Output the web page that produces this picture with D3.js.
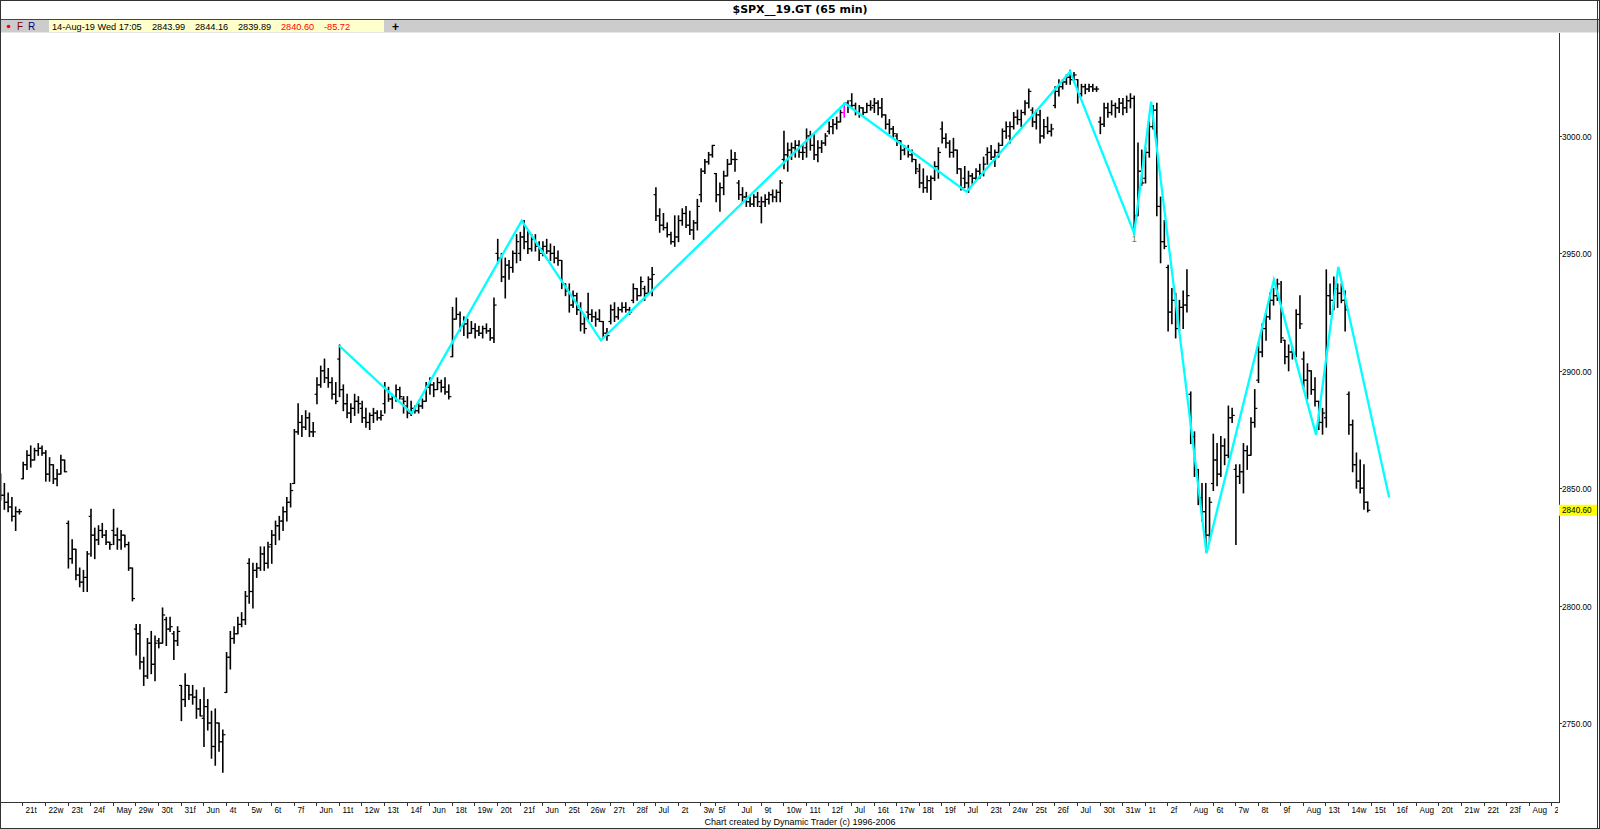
<!DOCTYPE html>
<html><head><meta charset="utf-8">
<script src="https://cdn.jsdelivr.net/npm/d3@7"></script>
<style>html,body{margin:0;padding:0;background:#fff;overflow:hidden}svg{display:block}</style>
</head><body><svg id="c" width="1600" height="829"></svg>
<script>
// ---------------- DATA ----------------
const chartTitle = "$SPX__19.GT (65 min)";
const headerDate = "14-Aug-19 Wed 17:05";
const headerValues = ["2843.99", "2844.16", "2839.89", "2840.60", "-85.72"];
const headerRed = [false, false, false, true, true];
const footerText = "Chart created by Dynamic Trader  (c) 1996-2006";
const priceTicks = [2750, 2800, 2850, 2900, 2950, 3000];
const lastPrice = 2840.60;

// one label per trading day, day 0 (20 May) is cut off at the left edge
const dayLabels = ["", "21t","22w","23t","24f","May","29w","30t","31f","Jun","4t","5w","6t","7f","Jun","11t","12w","13t","14f","Jun","18t","19w","20t","21f","Jun","25t","26w","27t","28f","Jul","2t","3w","5f","Jul","9t","10w","11t","12f","Jul","16t","17w","18t","19f","Jul","23t","24w","25t","26f","Jul","30t","31w","1t","2f","Aug","6t","7w","8t","9f","Aug","13t","14w","15t","16f","Aug","20t","21w","22t","23f","Aug","27t"];
// 65-minute bars per session (3 Jul is a half day)
const barsPerDay = [6,6,6,6,6,6,6,6,6,6,6,6,6,6,6,6,6,6,6,6,6,6,6,6,6,6,6,6,6,6,6,4,6,6,6,6,6,6,6,6,6,6,6,6,6,6,6,6,6,6,6,6,6,6,6,6,6,6,6,6,6,6,6,6,6,6,6,6,6,6];

const opens = [
 2855,2847,2844,2842,2838,2840, 2854,2860,2864,2862,2866,2867, 2865,2856,2860,2854,2856,2862,
 2835,2820,2824,2813,2810,2812, 2838,2830,2828,2832,2830,2827, 2832,2830,2828,2830,2826,2816,
 2790,2788,2776,2770,2784,2775, 2785,2784,2794,2790,2788,2785, 2766,2760,2766,2762,2761,2756,
 2752,2757,2750,2740,2750,2742, 2763,2778,2786,2788,2792,2794, 2818,2806,2815,2816,2822,2818,
 2826,2830,2834,2836,2840,2844, 2852,2874,2878,2876,2880,2874, 2890,2894,2900,2897,2895,2890,
 2905,2892,2886,2882,2884,2887, 2884,2880,2878,2881,2882,2880, 2886,2892,2888,2889,2892,2888,
 2885,2882,2884,2883,2885,2887, 2893,2894,2892,2895,2893,2891, 2906,2922,2924,2919,2920,2916,
 2918,2917,2916,2918,2917,2914, 2950,2948,2940,2945,2944,2950, 2950,2957,2955,2952,2956,2953,
 2952,2953,2951,2950,2948,2947, 2937,2934,2928,2932,2926,2920, 2925,2924,2923,2922,2921,2916,
 2921,2926,2923,2926,2927,2926, 2930,2935,2932,2935,2933,2939, 2975,2966,2962,2961,2958,2955,
 2957,2964,2967,2962,2960,2963, 2975,2985,2989,2992, 2984,2975,2978,2983,2988,2990,
 2980,2975,2974,2972,2971,2974, 2970,2972,2973,2975,2974,2976, 2990,2992,2994,2995,2996,2993,
 2995,3000,2996,2992,2995,2997, 3002,3004,3005,3006,3010,3014, 3015,3013,3010,3012,3010,3013,
 3013,3014,3012,3009,3005,3003, 3000,2998,2994,2995,2992,2990, 2985,2980,2978,2981,2982,2987,
 3003,2999,2997,2993,2994,2986, 2982,2980,2983,2982,2985,2984, 2992,2993,2991,2993,2996,3002,
 3000,3004,3008,3007,3010,3014, 3011,3006,3009,3000,3004,3002, 3013,3019,3021,3023,3025,3024,
 3024,3018,3021,3020,3021,3020, 3006,3005,3012,3010,3013,3012, 3014,3012,3015,3016,2966,2985,
 2982,2993,3004,3011,2970,2955, 2944,2925,2930,2918,2927,2928, 2890,2872,2858,2846,2840,2830,
 2852,2862,2856,2868,2864,2880, 2858,2855,2857,2866,2864,2878, 2896,2908,2918,2923,2930,2932,
 2930,2913,2906,2908,2907,2924, 2905,2896,2900,2892,2887,2878, 2880,2932,2930,2935,2933,2930,
 2890,2877,2860,2853,2850,2843.99
];
const highs = [
 2856,2852,2848,2846,2842,2841, 2861,2866,2868,2867,2869,2868, 2866,2863,2860,2858,2864,2862,
 2836,2828,2824,2816,2815,2823, 2841,2833,2834,2835,2832,2827, 2841,2833,2832,2830,2827,2816,
 2792,2792,2778,2786,2789,2787, 2786,2799,2795,2795,2789,2791, 2766,2771,2766,2766,2764,2760,
 2765,2760,2755,2756,2750,2747, 2780,2789,2791,2795,2797,2806, 2820,2818,2818,2825,2825,2827,
 2832,2836,2838,2842,2846,2852, 2875,2886,2881,2883,2882,2878, 2897,2902,2905,2901,2897,2895,
 2911,2894,2890,2886,2890,2889, 2887,2884,2882,2884,2883,2883, 2895,2893,2890,2894,2893,2889,
 2889,2887,2885,2886,2888,2895, 2897,2895,2897,2896,2897,2894, 2927,2931,2925,2923,2922,2921,
 2920,2919,2919,2920,2918,2931, 2956,2950,2948,2947,2951,2958, 2959,2964,2960,2958,2958,2955,
 2955,2956,2954,2953,2951,2947, 2937,2937,2934,2933,2929,2924, 2933,2926,2925,2926,2921,2918,
 2928,2929,2927,2929,2929,2927, 2937,2935,2940,2936,2940,2944, 2978,2969,2967,2963,2959,2966,
 2966,2969,2970,2968,2964,2973, 2986,2990,2993,2996, 2984,2980,2985,2990,2994,2993,
 2981,2978,2976,2974,2975,2976, 2974,2975,2976,2977,2977,2981, 3002,2997,2997,2998,2998,2996,
 3003,3002,3001,2998,2998,3001, 3006,3007,3008,3011,3014,3015, 3018,3014,3013,3012,3014,3015,
 3016,3015,3016,3009,3007,3004, 3001,2998,2996,2996,2994,2990, 2988,2986,2983,2983,2989,2995,
 3006,3001,2998,2999,2994,2986, 2987,2985,2984,2986,2988,2991, 2995,2996,2994,2997,3003,3006,
 3006,3010,3011,3011,3015,3020, 3012,3011,3011,3007,3008,3005, 3021,3024,3024,3026,3028,3027,
 3024,3022,3022,3022,3022,3021, 3008,3014,3014,3015,3014,3016, 3016,3017,3018,3017,2997,2994,
 2995,3006,3013,3014,2974,2964, 2945,2935,2933,2930,2934,2943, 2891,2874,2858,2852,2852,2846,
 2873,2869,2872,2871,2885,2884, 2860,2860,2869,2868,2880,2892, 2912,2920,2925,2933,2935,2939,
 2938,2913,2911,2910,2926,2932, 2908,2903,2900,2897,2887,2884, 2943,2937,2940,2937,2937,2934,
 2891,2879,2865,2862,2860,2844.16
];
const lows = [
 2845,2841,2840,2836,2832,2839, 2854,2858,2859,2862,2864,2864, 2853,2853,2852,2851,2856,2857,
 2816,2818,2811,2808,2806,2806, 2821,2820,2826,2829,2826,2824, 2826,2824,2824,2825,2815,2802,
 2779,2773,2766,2769,2771,2768, 2782,2784,2783,2789,2777,2783, 2751,2757,2760,2758,2752,2753,
 2740,2747,2735,2732,2738,2729, 2763,2773,2784,2788,2791,2792, 2801,2799,2812,2815,2815,2816,
 2818,2826,2828,2832,2836,2842, 2852,2873,2872,2875,2872,2872, 2886,2893,2895,2893,2888,2886,
 2889,2883,2880,2878,2881,2882, 2878,2876,2875,2878,2879,2879, 2882,2887,2884,2887,2888,2882,
 2880,2881,2882,2882,2884,2887, 2890,2889,2892,2891,2890,2888, 2906,2922,2917,2915,2914,2916,
 2914,2915,2914,2916,2913,2912, 2946,2938,2931,2939,2942,2946, 2947,2952,2950,2951,2951,2947,
 2949,2950,2947,2946,2945,2935, 2932,2925,2927,2924,2917,2916, 2922,2921,2919,2921,2914,2913,
 2920,2921,2922,2925,2925,2924, 2929,2930,2932,2930,2933,2932, 2964,2959,2960,2957,2954,2953,
 2955,2962,2961,2958,2956,2960, 2972,2984,2988,2991, 2972,2968,2975,2983,2988,2985,
 2973,2972,2970,2970,2970,2970, 2963,2970,2971,2972,2972,2972, 2986,2985,2990,2991,2991,2990,
 2991,2994,2990,2989,2993,2996, 3001,3001,3003,3006,3008,3010, 3012,3009,3008,3009,3010,3011,
 3010,3009,3008,3003,3001,2999, 2996,2990,2992,2991,2989,2984, 2978,2976,2976,2973,2981,2982,
 2997,2995,2991,2991,2984,2977, 2978,2976,2979,2981,2982,2983, 2988,2990,2987,2991,2996,2999,
 2997,3003,3005,3004,3009,3012, 3004,3003,2997,2999,3001,3000, 3012,3017,3020,3022,3022,3023,
 3014,3017,3018,3019,3019,3019, 3001,3004,3008,3009,3008,3010, 3009,3010,3012,2958,2966,2979,
 2980,2991,3003,2966,2946,2952, 2917,2920,2914,2917,2918,2925, 2869,2855,2843,2836,2823,2828,
 2849,2851,2855,2860,2863,2878, 2826,2852,2848,2858,2864,2876, 2895,2906,2913,2922,2928,2930,
 2912,2903,2900,2905,2906,2918, 2893,2888,2890,2885,2875,2873, 2876,2924,2926,2927,2929,2917,
 2873,2857,2850,2848,2841,2839.89
];
const closes = [
 2847,2844,2842,2838,2840,2840, 2860,2864,2862,2866,2867,2865, 2856,2860,2854,2856,2862,2857,
 2820,2824,2813,2810,2812,2822, 2830,2828,2832,2830,2827,2826, 2830,2828,2830,2826,2816,2803,
 2788,2776,2770,2784,2775,2784, 2784,2796,2790,2791,2785,2789, 2760,2766,2762,2761,2756,2753,
 2757,2750,2740,2750,2742,2745, 2778,2786,2788,2792,2794,2804, 2806,2815,2816,2822,2818,2825,
 2830,2834,2836,2840,2844,2849, 2874,2878,2876,2880,2874,2874, 2894,2900,2897,2895,2890,2887,
 2892,2886,2882,2884,2887,2886, 2880,2878,2881,2882,2880,2881, 2892,2888,2889,2892,2889,2887,
 2882,2884,2883,2885,2887,2893, 2894,2892,2895,2893,2891,2889, 2922,2924,2919,2920,2916,2918,
 2917,2916,2918,2917,2914,2928, 2948,2940,2945,2944,2950,2955, 2957,2955,2952,2956,2953,2950,
 2953,2951,2950,2948,2947,2937, 2934,2928,2932,2926,2920,2918, 2924,2923,2922,2921,2916,2915,
 2926,2923,2926,2927,2926,2925, 2935,2932,2938,2933,2939,2941, 2966,2962,2961,2958,2955,2957,
 2964,2967,2962,2960,2963,2970, 2985,2989,2992,2996, 2975,2978,2983,2988,2990,2990,
 2975,2974,2972,2971,2974,2972, 2972,2973,2975,2974,2976,2980, 2992,2994,2995,2996,2993,2993,
 3000,2996,2992,2995,2997,3000, 3004,3005,3006,3010,3014,3013, 3013,3010,3012,3010,3013,3012,
 3014,3012,3009,3005,3003,3001, 2998,2994,2995,2992,2990,2986, 2980,2978,2981,2982,2987,2993,
 2999,2997,2993,2994,2986,2978, 2980,2983,2982,2985,2984,2988, 2993,2991,2993,2996,3002,3004,
 3004,3008,3007,3010,3014,3019, 3006,3009,3000,3004,3002,3003, 3019,3021,3023,3025,3024,3026,
 3018,3021,3020,3021,3020,3020, 3005,3012,3010,3013,3012,3014, 3012,3015,3016,2966,2985,2980,
 2993,3004,3011,2970,2955,2953, 2925,2930,2918,2927,2928,2932, 2872,2858,2846,2840,2830,2844,
 2862,2856,2868,2864,2880,2881, 2855,2857,2866,2864,2878,2884, 2908,2918,2923,2930,2932,2937,
 2914,2906,2908,2907,2924,2920, 2896,2900,2892,2887,2878,2882, 2932,2930,2935,2933,2930,2926,
 2877,2860,2853,2850,2844,2840.60
];
const markedBar = 224;          // bar drawn in magenta

// cyan swing line (bar index, price)
const swingBars   = [90.1, 109.4, 138.6, 159.6, 224.4, 256.7, 284.2, 301.2, 305.7, 320.4, 338.3, 349.5, 355.4, 368.9];
const swingPrices = [2910.7, 2881.9, 2963.9, 2913.0, 3013.9, 2976.3, 3027.4, 2958.6, 3014.6, 2822.3, 2938.7, 2872.7, 2944.3, 2846.0];

// wave count label
const waveLabelBar = [301.2];
const waveLabelPrice = [2956.5];
const waveLabelText = ["1"];

// ---------------- LAYOUT ----------------
const W = 1600, H = 829;
const plotL = 0, plotR = 1559, plotT = 33, plotB = 802;
const FONT = "'Liberation Sans', Arial, sans-serif";

const svg = d3.select("#c");
svg.append("rect").attr("x",0).attr("y",0).attr("width",W).attr("height",H).attr("fill","#fff");

// scales
const x = d3.scaleLinear().domain([0, 414]).range([-0.2, plotR]);
const y = d3.scaleLinear().domain([2750, 3000]).range([723, 136]);

// title bar
svg.append("text").attr("x", 800).attr("y", 13).attr("text-anchor","middle")
  .attr("font-family", "'DejaVu Sans', Verdana, sans-serif").attr("font-weight","bold").attr("font-size", 11)
  .attr("fill","#000").text(chartTitle);

// toolbar
svg.append("rect").attr("x",0).attr("y",19).attr("width",W).attr("height",13).attr("fill","#cccccc");
svg.append("line").attr("x1",0).attr("x2",W).attr("y1",19.5).attr("y2",19.5).attr("stroke","#444").attr("stroke-width",1);
svg.append("line").attr("x1",0).attr("x2",W).attr("y1",32.5).attr("y2",32.5).attr("stroke","#e6e6e6").attr("stroke-width",1);
svg.append("circle").attr("cx",8.5).attr("cy",26.5).attr("r",1.8).attr("fill","#ff0000");
svg.append("text").attr("x",17).attr("y",30).attr("font-family",FONT).attr("font-size",10).attr("fill","#800000").text("F");
svg.append("text").attr("x",28).attr("y",30).attr("font-family",FONT).attr("font-size",10).attr("fill","#000080").text("R");
svg.append("rect").attr("x",49).attr("y",20).attr("width",335).attr("height",12).attr("fill","#ffffcc");
const hdr = svg.append("g").attr("font-family",FONT).attr("font-size",9.2);
hdr.append("text").attr("x",52).attr("y",29.5).attr("fill","#000").text(headerDate);
const hdrX = d3.scaleLinear().domain([0,1]).range([152, 195]);
headerValues.forEach((v,i)=>{
  hdr.append("text").attr("x",hdrX(i)).attr("y",29.5).attr("fill", headerRed[i] ? "#ff0000" : "#000").text(v);
});
svg.append("text").attr("x",392).attr("y",30.5).attr("font-family",FONT).attr("font-weight","bold").attr("font-size",12).attr("fill","#000").text("+");

// clip for plot
const defs = svg.append("defs");
defs.append("clipPath").attr("id","plotClip")
  .append("rect").attr("x",plotL).attr("y",plotT).attr("width",plotR-plotL).attr("height",plotB-plotT);
defs.append("clipPath").attr("id","axisClip")
  .append("rect").attr("x",0).attr("y",plotB).attr("width",plotR-1).attr("height",20);

const plot = svg.append("g").attr("clip-path","url(#plotClip)");

// OHLC bars
const barsG = plot.append("g");
d3.range(opens.length).forEach(i=>{
  const cx = x(i) + 0.8;
  const col = i === markedBar ? "#ff00ff" : "#000";
  barsG.append("line").attr("x1",cx).attr("x2",cx).attr("y1",y(highs[i])-0.5).attr("y2",y(lows[i])+0.5)
    .attr("stroke",col).attr("stroke-width",1.6);
  barsG.append("line").attr("x1",cx-2.3).attr("x2",cx).attr("y1",y(opens[i])).attr("y2",y(opens[i]))
    .attr("stroke",col).attr("stroke-width",1.2);
  barsG.append("line").attr("x1",cx).attr("x2",cx+2.6).attr("y1",y(closes[i])).attr("y2",y(closes[i]))
    .attr("stroke",col).attr("stroke-width",1.2);
});

// cyan swing line
const swingLine = d3.line().x(d=>x(d[0])).y(d=>y(d[1]));
plot.append("path").datum(swingBars.map((b,i)=>[b, swingPrices[i]]))
  .attr("d", swingLine).attr("fill","none").attr("stroke","#00ffff").attr("stroke-width",2.3)
  .attr("stroke-linejoin","miter");

// wave label
waveLabelText.forEach((t,i)=>{
  plot.append("text").attr("x", x(waveLabelBar[i])).attr("y", y(waveLabelPrice[i])+4)
    .attr("text-anchor","middle").attr("font-family",FONT).attr("font-size",9).attr("fill","#6b8e00").text(t);
});

// right price axis
svg.append("line").attr("x1",plotR+0.5).attr("x2",plotR+0.5).attr("y1",plotT).attr("y2",plotB+1).attr("stroke","#333").attr("stroke-width",1);
const pAx = svg.append("g").attr("font-family",FONT).attr("font-size",8.2);
priceTicks.forEach(p=>{
  const yy = Math.round(y(p)) + 0.5;
  pAx.append("line").attr("x1",plotR+1).attr("x2",plotR+3).attr("y1",yy).attr("y2",yy).attr("stroke","#333");
  pAx.append("text").attr("x",plotR+3).attr("y",yy+3).attr("fill","#000").text(p.toFixed(2));
});
// last price marker
const ly = y(lastPrice);
svg.append("rect").attr("x",plotR).attr("y",ly-5.5).attr("width",W-plotR-2).attr("height",11).attr("fill","#ffff00");
svg.append("text").attr("x",plotR+3).attr("y",ly+3).attr("font-family",FONT).attr("font-size",8.2).attr("fill","#000").text(lastPrice.toFixed(2));

// bottom time axis
svg.append("line").attr("x1",0).attr("x2",plotR).attr("y1",plotB+0.5).attr("y2",plotB+0.5).attr("stroke","#333");
const tAx = svg.append("g").attr("clip-path","url(#axisClip)").attr("font-family",FONT).attr("font-size",8.2);
const dayStart = d3.cumsum([0, ...barsPerDay.slice(0,-1)]);
dayLabels.forEach((lab,d)=>{
  if (!lab) return;
  const tx = Math.round(x(dayStart[d])) + 0.5;
  tAx.append("line").attr("x1",tx).attr("x2",tx).attr("y1",plotB+1).attr("y2",plotB+4).attr("stroke","#333");
  tAx.append("text").attr("x",tx+3).attr("y",plotB+11).attr("fill","#000").text(lab);
});

// footer
svg.append("text").attr("x",800).attr("y",825).attr("text-anchor","middle").attr("font-family",FONT)
  .attr("font-size",9).attr("fill","#000").text(footerText);

// outer frame
svg.append("rect").attr("x",0.5).attr("y",0.5).attr("width",W-1).attr("height",H-1).attr("fill","none").attr("stroke","#333").attr("stroke-width",1);
svg.append("line").attr("x1",W-2.5).attr("x2",W-2.5).attr("y1",0).attr("y2",H).attr("stroke","#333");
</script></body></html>
